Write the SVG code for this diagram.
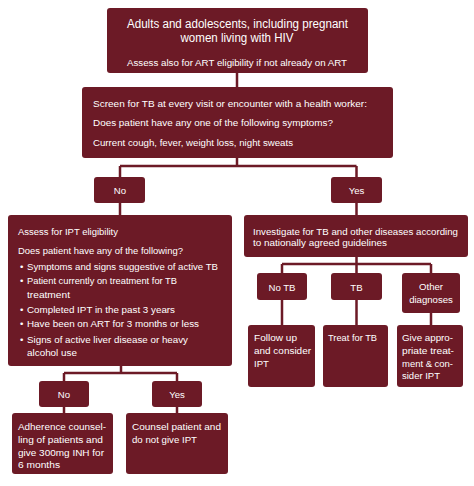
<svg xmlns="http://www.w3.org/2000/svg" width="474" height="486" viewBox="0 0 474 486">
<style>
.box{fill:#6c1a26;}
.t{fill:#ffffff;font-family:"Liberation Sans","Open Sans",Arial,sans-serif;font-size:9.6px;}
.ttl{font-size:12px;}
.c{text-anchor:middle;}
.ln{fill:none;stroke:#6c1a26;stroke-width:2.5;}
</style>
<rect x="0" y="0" width="474" height="486" fill="#ffffff"/>
<g id="connectors">
<path class="ln" d="M237 73V87M237 158V166M120 166H356.5M120 166V177M356.5 166V177M120 203V215M356.5 203V215M356.5 257V264M282 264H431M282 264V273M356.5 264V273M431 264V273M282 300V325M356.5 300V325M431 313V325M121 366V373M64 373H177M64 373V381M177 373V381M64 407V413M177 407V413"/>
</g>
<g id="n-top">
<rect class="box" x="107" y="8" width="261" height="65" rx="3"/>
<text class="t ttl c" x="237.5" y="28" textLength="221" lengthAdjust="spacingAndGlyphs">Adults and adolescents, including pregnant</text>
<text class="t ttl c" x="237" y="41.5" textLength="113" lengthAdjust="spacingAndGlyphs">women living with HIV</text>
<text class="t c" x="237" y="66" textLength="220" lengthAdjust="spacingAndGlyphs">Assess also for ART eligibility if not already on ART</text>
</g>
<g id="n-screen">
<rect class="box" x="82" y="87" width="311" height="71" rx="3"/>
<text class="t" x="93" y="106.5" textLength="274" lengthAdjust="spacingAndGlyphs">Screen for TB at every visit or encounter with a health worker:</text>
<text class="t" x="93" y="126" textLength="240" lengthAdjust="spacingAndGlyphs">Does patient have any one of the following symptoms?</text>
<text class="t" x="93" y="145.5" textLength="200" lengthAdjust="spacingAndGlyphs">Current cough, fever, weight loss, night sweats</text>
</g>
<g id="n-no1">
<rect class="box" x="94" y="177" width="51" height="26" rx="3"/>
<text class="t c" x="120" y="194">No</text>
</g>
<g id="n-yes1">
<rect class="box" x="331" y="177" width="51" height="26" rx="3"/>
<text class="t c" x="356.5" y="194">Yes</text>
</g>
<g id="n-assess">
<rect class="box" x="8" y="215" width="224" height="151" rx="3"/>
<text class="t" x="18" y="234.5" textLength="100" lengthAdjust="spacingAndGlyphs">Assess for IPT eligibility</text>
<text class="t" x="18" y="254" textLength="165" lengthAdjust="spacingAndGlyphs">Does patient have any of the following?</text>
<text class="t" x="20" y="270">•</text>
<text class="t" x="27" y="270" textLength="191" lengthAdjust="spacingAndGlyphs">Symptoms and signs suggestive of active TB</text>
<text class="t" x="20" y="284">•</text>
<text class="t" x="27" y="284" textLength="150" lengthAdjust="spacingAndGlyphs">Patient currently on treatment for TB</text>
<text class="t" x="27" y="298" textLength="43" lengthAdjust="spacingAndGlyphs">treatment</text>
<text class="t" x="20" y="313">•</text>
<text class="t" x="27" y="313" textLength="148" lengthAdjust="spacingAndGlyphs">Completed IPT in the past 3 years</text>
<text class="t" x="20" y="327">•</text>
<text class="t" x="27" y="327" textLength="172" lengthAdjust="spacingAndGlyphs">Have been on ART for 3 months or less</text>
<text class="t" x="20" y="343">•</text>
<text class="t" x="27" y="343" textLength="161" lengthAdjust="spacingAndGlyphs">Signs of active liver disease or heavy</text>
<text class="t" x="27" y="355.5" textLength="50" lengthAdjust="spacingAndGlyphs">alcohol use</text>
</g>
<g id="n-investigate">
<rect class="box" x="244" y="215" width="224" height="42" rx="3"/>
<text class="t" x="253" y="234.5" textLength="205" lengthAdjust="spacingAndGlyphs">Investigate for TB and other diseases according</text>
<text class="t" x="253" y="246" textLength="134" lengthAdjust="spacingAndGlyphs">to nationally agreed guidelines</text>
</g>
<g id="n-notb">
<rect class="box" x="257" y="273" width="50" height="27" rx="3"/>
<text class="t c" x="282" y="290.5">No TB</text>
</g>
<g id="n-tb">
<rect class="box" x="331" y="273" width="51" height="27" rx="3"/>
<text class="t c" x="356.5" y="290.5">TB</text>
</g>
<g id="n-other">
<rect class="box" x="402" y="273" width="58" height="40" rx="3"/>
<text class="t c" x="431" y="289.5">Other</text>
<text class="t c" x="431" y="302.5">diagnoses</text>
</g>
<g id="n-follow">
<rect class="box" x="248" y="325" width="67" height="62" rx="3"/>
<text class="t" x="254" y="341" textLength="43" lengthAdjust="spacingAndGlyphs">Follow up</text>
<text class="t" x="254" y="354" textLength="57" lengthAdjust="spacingAndGlyphs">and consider</text>
<text class="t" x="254" y="366.5">IPT</text>
</g>
<g id="n-treat">
<rect class="box" x="323" y="325" width="65" height="62" rx="3"/>
<text class="t" x="328" y="341" textLength="49" lengthAdjust="spacingAndGlyphs">Treat for TB</text>
</g>
<g id="n-give">
<rect class="box" x="397" y="325" width="66" height="62" rx="3"/>
<text class="t" x="402" y="341" textLength="51" lengthAdjust="spacingAndGlyphs">Give appro-</text>
<text class="t" x="402" y="354" textLength="52" lengthAdjust="spacingAndGlyphs">priate treat-</text>
<text class="t" x="402" y="366.5" textLength="51" lengthAdjust="spacingAndGlyphs">ment &amp; con-</text>
<text class="t" x="402" y="379" textLength="38" lengthAdjust="spacingAndGlyphs">sider IPT</text>
</g>
<g id="n-no2">
<rect class="box" x="39" y="381" width="50" height="26" rx="3"/>
<text class="t c" x="64" y="397.5">No</text>
</g>
<g id="n-yes2">
<rect class="box" x="152" y="381" width="50" height="26" rx="3"/>
<text class="t c" x="177" y="397.5">Yes</text>
</g>
<g id="n-adherence">
<rect class="box" x="12" y="413" width="101" height="61" rx="3"/>
<text class="t" x="18" y="429.5" textLength="88" lengthAdjust="spacingAndGlyphs">Adherence counsel-</text>
<text class="t" x="18" y="442.5" textLength="85" lengthAdjust="spacingAndGlyphs">ling of patients and</text>
<text class="t" x="18" y="455.5" textLength="86" lengthAdjust="spacingAndGlyphs">give 300mg INH for</text>
<text class="t" x="18" y="468" textLength="42" lengthAdjust="spacingAndGlyphs">6 months</text>
</g>
<g id="n-counsel">
<rect class="box" x="126" y="413" width="102" height="61" rx="3"/>
<text class="t" x="132" y="429.5" textLength="89" lengthAdjust="spacingAndGlyphs">Counsel patient and</text>
<text class="t" x="132" y="442.5" textLength="65" lengthAdjust="spacingAndGlyphs">do not give IPT</text>
</g>
</svg>
